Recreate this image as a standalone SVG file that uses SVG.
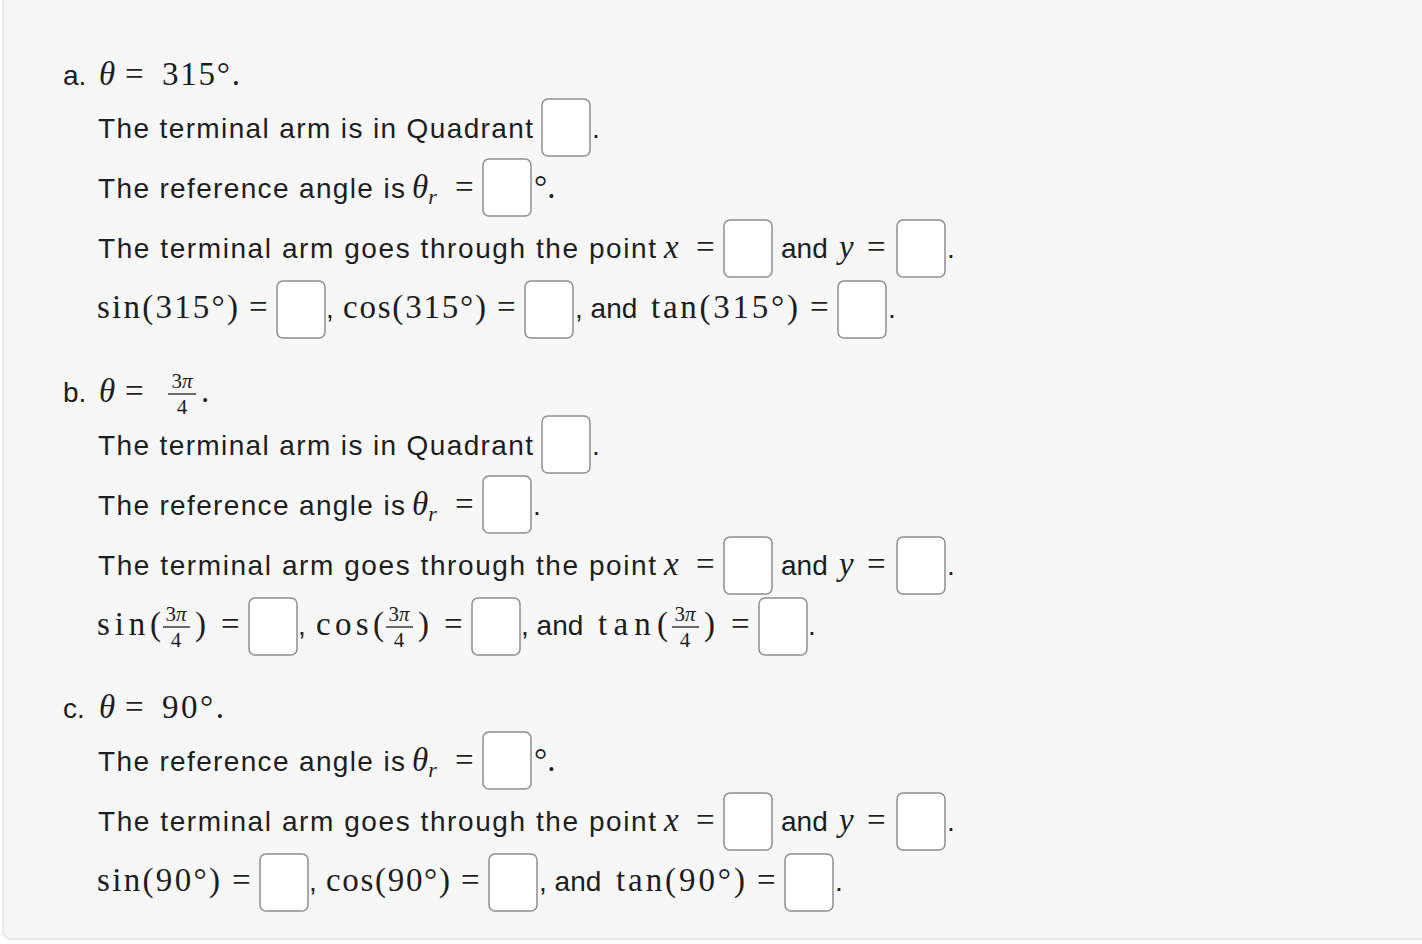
<svg xmlns="http://www.w3.org/2000/svg" width="1422" height="944" viewBox="0 0 1422 944">
<style>
.t{font-family:"Liberation Sans",Arial,sans-serif;font-size:28px;fill:#1d1d1f}
.m{font-family:"Liberation Serif","Times New Roman",serif;font-size:33px;fill:#1d1d1f}
.i{font-style:italic}
.f{font-family:"Liberation Serif",serif;font-size:21px;fill:#1d1d1f;text-anchor:middle}
.b{fill:#fff;stroke:#8e8e93;stroke-width:1.5}
</style>
<defs><rect id="bx" class="b" width="48" height="57" rx="6"/></defs>
<rect x="3" y="-10" width="1430" height="949" rx="8" fill="#f7f7f7" stroke="#e2e2e2" stroke-width="1.5"/>
<!-- a -->
<text class="t" x="63" y="85">a.</text><text class="m i" x="99" y="85">θ</text><text class="m" x="125" y="85">=</text><text class="m" x="162" y="85" textLength="78" lengthAdjust="spacing">315°.</text>
<text class="t" x="98" y="138" textLength="435" lengthAdjust="spacing">The terminal arm is in Quadrant</text><use href="#bx" x="542" y="99"/><text class="t" x="592" y="138">.</text>
<text class="t" x="98" y="198" textLength="307" lengthAdjust="spacing">The reference angle is</text><text class="m" x="412" y="198"><tspan class="i">θ</tspan><tspan class="i" font-size="22" dy="6">r</tspan></text><text class="m" x="455" y="198">=</text><use href="#bx" x="483" y="159"/><text class="m" x="534" y="198">°.</text>
<text class="t" x="98" y="258" textLength="558" lengthAdjust="spacing">The terminal arm goes through the point</text><text class="m i" x="664" y="258">x</text><text class="m" x="696" y="258">=</text><use href="#bx" x="724" y="220"/><text class="t" x="781" y="258">and</text><text class="m i" x="839" y="258">y</text><text class="m" x="867" y="258">=</text><use href="#bx" x="897" y="220"/><text class="t" x="947" y="258">.</text>
<text class="m" x="97" y="318" textLength="141" lengthAdjust="spacing">sin(315°)</text><text class="m" x="249" y="318">=</text><use href="#bx" x="277" y="281"/><text class="t" x="326" y="318">,</text>
<text class="m" x="343" y="318" textLength="143" lengthAdjust="spacing">cos(315°)</text><text class="m" x="497" y="318">=</text><use href="#bx" x="525" y="281"/><text class="t" x="575" y="318">, and</text>
<text class="m" x="651" y="318" textLength="147" lengthAdjust="spacing">tan(315°)</text><text class="m" x="810" y="318">=</text><use href="#bx" x="838" y="281"/><text class="t" x="888" y="318">.</text>
<!-- b -->
<text class="t" x="63" y="402">b.</text><text class="m i" x="99" y="402">θ</text><text class="m" x="125" y="402">=</text>
<text class="f" x="182" y="388">3<tspan class="i">π</tspan></text><line x1="168" y1="394" x2="196" y2="394" stroke="#1d1d1f" stroke-width="1.3"/><text class="f" x="182" y="414">4</text><text class="m" x="201" y="402">.</text>
<text class="t" x="98" y="455" textLength="435" lengthAdjust="spacing">The terminal arm is in Quadrant</text><use href="#bx" x="542" y="416"/><text class="t" x="592" y="455">.</text>
<text class="t" x="98" y="515" textLength="307" lengthAdjust="spacing">The reference angle is</text><text class="m" x="412" y="515"><tspan class="i">θ</tspan><tspan class="i" font-size="22" dy="6">r</tspan></text><text class="m" x="455" y="515">=</text><use href="#bx" x="483" y="476"/><text class="t" x="533" y="515">.</text>
<text class="t" x="98" y="575" textLength="558" lengthAdjust="spacing">The terminal arm goes through the point</text><text class="m i" x="664" y="575">x</text><text class="m" x="696" y="575">=</text><use href="#bx" x="724" y="537"/><text class="t" x="781" y="575">and</text><text class="m i" x="839" y="575">y</text><text class="m" x="867" y="575">=</text><use href="#bx" x="897" y="537"/><text class="t" x="947" y="575">.</text>
<text class="m" x="97" y="635" textLength="64" lengthAdjust="spacing">sin(</text><text class="f" x="176" y="621">3<tspan class="i">π</tspan></text><line x1="163" y1="627" x2="190" y2="627" stroke="#1d1d1f" stroke-width="1.3"/><text class="f" x="176" y="647">4</text><text class="m" x="195" y="635">)</text>
<text class="m" x="221" y="635">=</text><use href="#bx" x="249" y="598"/><text class="t" x="298" y="635">,</text>
<text class="m" x="316" y="635" textLength="68" lengthAdjust="spacing">cos(</text><text class="f" x="399" y="621">3<tspan class="i">π</tspan></text><line x1="386" y1="627" x2="413" y2="627" stroke="#1d1d1f" stroke-width="1.3"/><text class="f" x="399" y="647">4</text><text class="m" x="418" y="635">)</text>
<text class="m" x="444" y="635">=</text><use href="#bx" x="472" y="598"/><text class="t" x="521" y="635">, and</text>
<text class="m" x="598" y="635" textLength="70" lengthAdjust="spacing">tan(</text><text class="f" x="685" y="621">3<tspan class="i">π</tspan></text><line x1="672" y1="627" x2="699" y2="627" stroke="#1d1d1f" stroke-width="1.3"/><text class="f" x="685" y="647">4</text><text class="m" x="704" y="635">)</text>
<text class="m" x="731" y="635">=</text><use href="#bx" x="759" y="598"/><text class="t" x="808" y="635">.</text>
<!-- c -->
<text class="t" x="63" y="718">c.</text><text class="m i" x="99" y="718">θ</text><text class="m" x="125" y="718">=</text><text class="m" x="162" y="718" textLength="62" lengthAdjust="spacing">90°.</text>
<text class="t" x="98" y="771" textLength="307" lengthAdjust="spacing">The reference angle is</text><text class="m" x="412" y="771"><tspan class="i">θ</tspan><tspan class="i" font-size="22" dy="6">r</tspan></text><text class="m" x="455" y="771">=</text><use href="#bx" x="483" y="732"/><text class="m" x="534" y="771">°.</text>
<text class="t" x="98" y="831" textLength="558" lengthAdjust="spacing">The terminal arm goes through the point</text><text class="m i" x="664" y="831">x</text><text class="m" x="696" y="831">=</text><use href="#bx" x="724" y="793"/><text class="t" x="781" y="831">and</text><text class="m i" x="839" y="831">y</text><text class="m" x="867" y="831">=</text><use href="#bx" x="897" y="793"/><text class="t" x="947" y="831">.</text>
<text class="m" x="97" y="891" textLength="123" lengthAdjust="spacing">sin(90°)</text><text class="m" x="232" y="891">=</text><use href="#bx" x="260" y="854"/><text class="t" x="309" y="891">,</text>
<text class="m" x="326" y="891" textLength="124" lengthAdjust="spacing">cos(90°)</text><text class="m" x="461" y="891">=</text><use href="#bx" x="489" y="854"/><text class="t" x="539" y="891">, and</text>
<text class="m" x="616" y="891" textLength="129" lengthAdjust="spacing">tan(90°)</text><text class="m" x="757" y="891">=</text><use href="#bx" x="785" y="854"/><text class="t" x="835" y="891">.</text>
</svg>
